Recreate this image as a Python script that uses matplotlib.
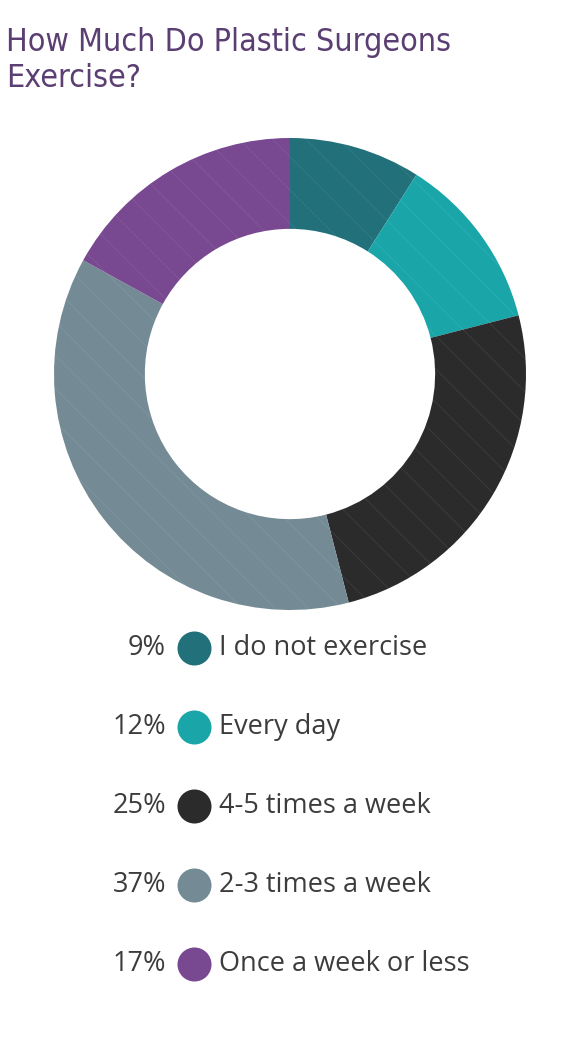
import matplotlib
matplotlib.use('Agg')
import matplotlib.pyplot as plt

# Survey data
labels = ['I do not exercise', 'Every day', '4-5 times a week', '2-3 times a week', 'Once a week or less']
percents = [9, 12, 25, 37, 17]
colors = ['#22707a', '#1aa6a8', '#2b2b2b', '#748b96', '#784891']

W, H = 580, 1057
plt.rcParams['hatch.linewidth'] = 0.5

fig = plt.figure(figsize=(W / 100, H / 100), dpi=100)
fig.patch.set_facecolor('white')

# Title
fig.text(6 / W, 1 - 27 / H, 'How Much Do Plastic Surgeons\nExercise?', ha='left', va='top',
         fontsize=23, family='DejaVu Sans', fontstretch='condensed', color='#5b3f73', linespacing=1.2)

# Donut
cx, cy, r = 290, 374, 236
ax = fig.add_axes([(cx - r) / W, (H - cy - r) / H, 2 * r / W, 2 * r / H])
wedges, _ = ax.pie(percents, colors=colors, startangle=90, counterclock=False,
                   radius=1, wedgeprops=dict(width=0.385, linewidth=0))
for w in wedges:
    w.set_hatch('\\')
    w.set_edgecolor((1, 1, 1, 0.1))
ax.set_xlim(-1, 1)
ax.set_ylim(-1, 1)
ax.set_aspect('equal')
ax.axis('off')

# Legend rows
lax = fig.add_axes([0, 0, 1, 1])
lax.set_xlim(0, W)
lax.set_ylim(H, 0)
lax.axis('off')
row_y = [648, 727, 806, 885, 964]
for y, p, lab, c in zip(row_y, percents, labels, colors):
    lax.text(166, y, f'{p}%', ha='right', va='center', fontsize=19.5, family='Open Sans', color='#3c3c3c')
    lax.scatter([194], [y], s=600, color=c, linewidths=0)
    lax.text(219, y, lab, ha='left', va='center', fontsize=19.5, family='Open Sans', color='#3c3c3c')

fig.savefig('out.png', dpi=100, facecolor='white')
